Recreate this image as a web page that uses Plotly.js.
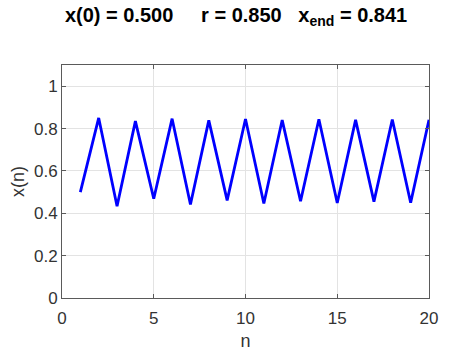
<!DOCTYPE html>
<html><head><meta charset="utf-8">
<script src="https://cdn.plot.ly/plotly-3.0.1.min.js"></script>
<style>html,body{margin:0;padding:0;background:#fff;}#plot{width:474px;height:355px;}</style>
</head><body><div id="plot"></div>
<script>
var n = [1,2,3,4,5,6,7,8,9,10,11,12,13,14,15,16,17,18,19,20];
var xn = [0.500,0.850,0.4335,0.835,0.4685,0.8466,0.4415,0.8384,0.4607,0.8448,0.4459,0.8400,0.4569,0.8437,0.4484,0.8410,0.4548,0.8430,0.4499,0.8415];
var xTicks = [0,5,10,15,20];
var yTicks = [0,0.2,0.4,0.6,0.8,1];
var yTickText = ['0','0.2','0.4','0.6','0.8','1'];
var titleText = '<b>x(0) = 0.500\u00a0\u00a0\u00a0\u00a0 r = 0.850\u00a0\u00a0 x<sub>end</sub> = 0.841</b>';
var FONT = 'Liberation Sans, Arial, sans-serif';

var trace = {x: n, y: xn, type: 'scatter', mode: 'lines',
  line: {color: '#0000ff', width: 2.8}, hoverinfo: 'none'};

var axisCommon = {
  showline: true, linecolor: '#5a5a5a', linewidth: 1, mirror: 'ticks',
  ticks: 'inside', ticklen: 4, tickcolor: '#5a5a5a', tickwidth: 1,
  showgrid: true, gridcolor: '#e3e3e3', gridwidth: 1, zeroline: false,
  tickfont: {family: FONT, size: 17, color: '#333'}
};

var layout = {
  width: 474, height: 355,
  margin: {l: 62, r: 45, t: 65, b: 57},
  paper_bgcolor: '#fff', plot_bgcolor: '#fff',
  showlegend: false,
  title: {text: titleText, x: 0.498, xanchor: 'center', y: 0.958, yanchor: 'middle',
    font: {family: FONT, size: 20, color: '#000'}},
  xaxis: Object.assign({}, axisCommon, {range: [0, 20], tickvals: xTicks, ticklabelstandoff: 5,
    title: {text: 'n', standoff: 6, font: {family: FONT, size: 18, color: '#333'}}}),
  yaxis: Object.assign({}, axisCommon, {range: [0, 1.1], tickvals: yTicks, ticktext: yTickText,
    title: {text: 'x(n)', standoff: 4, font: {family: FONT, size: 18, color: '#333'}}})
};
Plotly.newPlot('plot', [trace], layout, {staticPlot: true, displayModeBar: false});
</script></body></html>
